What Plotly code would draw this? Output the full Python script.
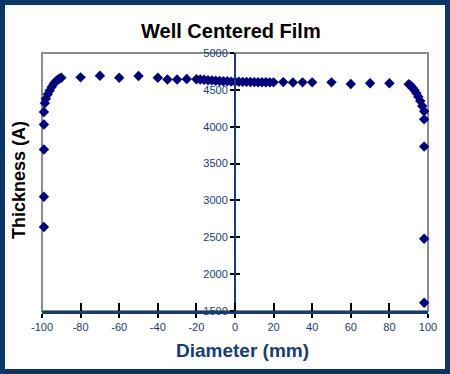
import plotly.graph_objects as go

# Data
diameter_mm = [-99, -99, -99, -99, -99, -98.5, -98, -97, -96, -95, -94, -93, -92, -91, -90,
               -80, -70, -60, -50, -40, -35, -30, -25,
               -20, -18, -16, -14, -12, -10, -8, -6, -4, -2, 0, 2, 4, 6, 8, 10, 12, 14, 16, 18, 20,
               25, 30, 35, 40, 50, 60, 70, 80,
               90, 91, 92, 93, 94, 95, 96, 97, 98, 98, 98, 98, 98]
thickness_A = [2640, 3050, 3690, 4030, 4200, 4320, 4380, 4440, 4490, 4540, 4580, 4610, 4635, 4655, 4665,
               4670, 4692, 4665, 4688, 4665, 4640, 4640, 4647,
               4643, 4640, 4637, 4631, 4629, 4624, 4621, 4617, 4616, 4612, 4611, 4610, 4608, 4608, 4606, 4605, 4604, 4603, 4604, 4602, 4602,
               4605, 4600, 4602, 4602, 4602, 4579, 4589, 4589,
               4577, 4560, 4530, 4495, 4455, 4405, 4350, 4280, 4210, 4100, 3730, 2480, 1612]

x_ticks = [-100, -80, -60, -40, -20, 0, 20, 40, 60, 80, 100]
x_tick_labels = ["-100", "-80", "-60", "-40", "-20", "0", "20", "40", "60", "80", "100"]
y_ticks = [1500, 2000, 2500, 3000, 3500, 4000, 4500, 5000]
y_tick_labels = ["1500", "2000", "2500", "3000", "3500", "4000", "4500", "5000"]

NAVY = "#143C78"
FONT = "Arial, Liberation Sans, sans-serif"

W, H = 450, 374
ML, MR, MT, MB = 42, 22, 53, 63
PW, PH = W - ML - MR, H - MT - MB

fig = go.Figure()
fig.add_trace(go.Scatter(
    x=diameter_mm, y=thickness_A, mode="markers",
    marker=dict(symbol="diamond", size=8, color="#000080"),
    cliponaxis=False, showlegend=False, hoverinfo="x+y"))
# empty trace to host the overlay axes (cross-style ticks)
fig.add_trace(go.Scatter(x=[None], y=[None], xaxis="x2", yaxis="y2", showlegend=False,
                         hoverinfo="skip"))

common_x = dict(range=[-100, 100], tickvals=x_ticks, showgrid=False, zeroline=False)
common_y = dict(range=[1500, 5000], tickvals=y_ticks, showgrid=False, zeroline=False)

fig.update_layout(
    width=W, height=H,
    margin=dict(l=ML, r=MR, t=MT, b=MB, pad=0),
    paper_bgcolor="white", plot_bgcolor="rgba(0,0,0,0)",
    font=dict(family=FONT),
    xaxis=dict(**common_x, ticktext=x_tick_labels, anchor="y", ticks="outside", ticklen=4,
               tickwidth=2, tickcolor="black", layer="above traces",
               showline=True, linecolor=NAVY, linewidth=3,
               tickfont=dict(size=11, color=NAVY, family=FONT)),
    xaxis2=dict(**common_x, overlaying="x", anchor="y2", side="bottom", ticks="inside",
                ticklen=8, tickwidth=2, layer="above traces",
                tickcolor="black", showticklabels=False, showline=False),
    yaxis=dict(**common_y, ticktext=y_tick_labels, anchor="free", position=0.5, ticks="outside",
               ticklen=4, tickwidth=2,
               tickcolor="black", showline=True, linecolor=NAVY, linewidth=2,
               tickfont=dict(size=11, color=NAVY, family=FONT)),
    yaxis2=dict(**common_y, overlaying="y", anchor="free", position=0.5, ticks="inside", ticklen=4,
                tickwidth=2, tickcolor="black", showticklabels=False, showline=False),
    shapes=[
        dict(type="rect", xref="paper", yref="paper", x0=0, x1=1, y0=0, y1=1,
             line=dict(color="#8C8C8C", width=2), layer="below"),
        dict(type="rect", xref="paper", yref="paper",
             x0=(2.5 - ML) / PW, x1=(W - 2.5 - ML) / PW,
             y0=(PH - (H - 2.5 - MT)) / PH, y1=(PH - (2.5 - MT)) / PH,
             line=dict(color="#0B3668", width=5)),
    ],
    annotations=[
        dict(text="<b>Well Centered Film</b>", xref="paper", yref="paper",
             x=(231 - ML) / PW, y=(PH - (31 - MT)) / PH, xanchor="center", yanchor="middle",
             showarrow=False, font=dict(size=20, color="black", family=FONT)),
        dict(text="<b>Diameter (mm)</b>", xref="paper", yref="paper",
             x=(243 - ML) / PW, y=(PH - (350 - MT)) / PH, xanchor="center", yanchor="middle",
             showarrow=False, font=dict(size=19, color=NAVY, family=FONT)),
        dict(text="<b>Thickness (A)</b>", xref="paper", yref="paper", textangle=-90,
             x=(19 - ML) / PW, y=(PH - (180 - MT)) / PH, xanchor="center", yanchor="middle",
             showarrow=False, font=dict(size=18, color="black", family=FONT)),
    ],
)

fig.write_html("out.html", config={"displayModeBar": False},
               post_script="document.body.style.margin='0';document.body.style.padding='0';")
